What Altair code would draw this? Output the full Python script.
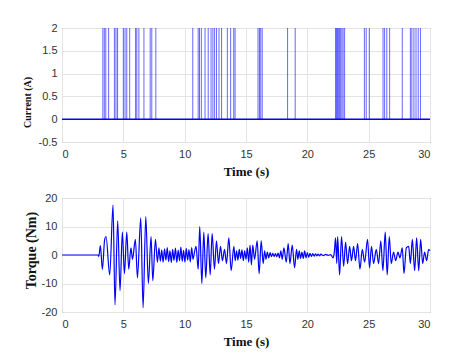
import altair as alt
import pandas as pd

# ---- data ----
x_ticks = [0, 5, 10, 15, 20, 25, 30]
cur_ticks = [-0.5, 0, 0.5, 1, 1.5, 2]
tq_ticks = [-20, -10, 0, 10, 20]

# switching edges of the current pulses (s)
pulse_t = [3.33, 3.45, 3.57, 3.80, 4.27, 4.40, 4.53, 5.00, 5.14, 5.28, 5.52,
           6.00, 6.10, 6.27, 6.68, 7.19, 7.32, 7.65,
           10.66, 11.10, 11.21, 11.36, 11.66, 11.92, 12.15, 12.30, 12.44,
           12.60, 12.80, 13.01, 13.48, 13.75, 14.00, 14.11,
           15.98, 16.10, 16.20, 16.32,
           18.39, 19.01,
           22.30, 22.38, 22.46, 22.55, 22.63, 22.72, 22.82, 22.92, 23.04,
           24.65, 24.80, 25.05,
           26.17, 26.30, 26.48, 26.71,
           27.74,
           28.40, 28.52, 28.69, 28.86, 29.04, 29.22]

# torque extrema (s, Nm)
torque_t = [0.0, 2.95, 3.00, 3.13, 3.29, 3.48, 3.59, 3.89, 4.16, 4.32, 4.54,
            4.73, 4.92, 5.09, 5.28, 5.44, 5.62, 5.75, 5.98, 6.15, 6.42, 6.61,
            6.83, 7.04, 7.26, 7.40, 7.62, 7.78,
            7.90, 8.02, 8.13, 8.24, 8.36, 8.47, 8.58, 8.69, 8.80, 8.91, 9.02,
            9.13, 9.25, 9.36, 9.47, 9.58, 9.69, 9.80, 9.91, 10.02, 10.13,
            10.24, 10.35, 10.46, 10.57, 10.68, 10.80,
            10.93, 11.10, 11.23, 11.40, 11.56, 11.72, 11.91, 12.08, 12.24,
            12.43, 12.59, 12.76, 12.92, 13.08, 13.25, 13.41, 13.60, 13.79,
            14.01, 14.12, 14.23, 14.34, 14.45, 14.56, 14.67, 14.78, 14.89,
            15.00, 15.11, 15.22, 15.33, 15.44, 15.55, 15.70, 15.91, 16.07,
            16.24, 16.40, 16.52, 16.63, 16.74, 16.85, 16.96, 17.07, 17.18,
            17.29, 17.40, 17.51, 17.62, 17.73, 17.84, 17.95, 18.09, 18.28,
            18.44, 18.58, 18.77, 18.96, 19.12, 19.23, 19.34, 19.45, 19.56,
            19.67, 19.78, 19.89, 20.00, 20.11, 20.22, 20.33, 20.44, 20.55,
            20.66, 20.77, 20.88, 21.00, 21.10, 21.30, 21.50, 21.70, 21.90,
            22.10, 22.20, 22.30, 22.40, 22.47, 22.63, 22.79, 22.96, 23.12,
            23.28, 23.45, 23.60, 23.77, 23.93, 24.10, 24.29, 24.48, 24.67,
            24.91, 25.07, 25.23, 25.40, 25.62, 25.81, 25.99, 26.16, 26.35,
            26.51, 26.68, 26.84, 27.03, 27.20, 27.39, 27.55, 27.74, 27.88,
            28.07, 28.26, 28.40, 28.56, 28.75, 28.91, 29.08, 29.24, 29.40,
            29.56, 29.73, 29.89, 30.00]
torque_v = [0.0, 0.0, -0.5, 3.3, -5.1, 5.5, 6.5, -7.0, 17.5, -17.5, 12.0,
            -12.5, 8.0, -6.5, 8.0, -5.0, 2.5, -1.5, 5.5, -8.0, 13.0, -18.5,
            13.5, -10.0, 6.5, -9.0, 5.5, -2.5,
            2.5, -2.2, 1.8, -2.5, 2.2, -1.8, 2.6, -2.3, 1.5, -2.6, 2.0,
            -1.9, 2.4, -2.6, 1.7, -2.0, 2.8, -2.2, 1.6, -2.5, 2.3,
            -1.8, 1.9, -2.4, 2.6, -1.5, 1.0,
            3.0, -5.0, 10.0, -10.0, 8.0, -8.0, 7.5, -7.0, 7.5,
            -5.0, 5.0, -3.0, 3.0, -2.0, 2.0, -3.0, 6.0, -5.5,
            3.0, -2.0, 1.5, -1.8, 2.0, -1.2, 1.8, -2.0, 1.5,
            -1.5, 2.5, -2.5, 3.5, -3.5, 3.5, -1.5, 5.0, -6.5,
            5.0, -3.0, 1.5, -1.5, 1.0, -1.0, 0.8, -0.6, 0.6,
            -0.5, 0.5, -0.6, 0.7, -1.0, 1.5, -1.5, 2.5, -2.5,
            4.0, -3.0, 3.5, -4.5, 2.0, -1.5, 1.5, -1.2, 1.0,
            -1.2, 1.5, -1.0, 0.8, -0.8, 0.6, -0.5, 0.5, -0.4,
            0.4, -0.3, 0.3, -0.3, 0.3, -0.2, 0.2, -0.1, 0.1,
            -1.0, 1.0, 6.0, -3.0, 6.5, -7.0, 6.5, -4.0, 4.5,
            -3.0, 3.0, -2.0, 3.0, -2.0, 4.0, -5.0, 2.0, -2.5,
            5.5, -4.5, 3.0, -3.0, 2.0, -3.0, 5.0, -5.5, 8.0,
            -7.0, 6.5, -3.0, 1.0, -2.0, 1.0, -1.0, 2.5, -6.5,
            2.5, 3.0, -3.0, 5.5, -5.5, 6.0, -5.5, 5.5, -3.0,
            1.0, -2.0, 2.0, 1.5]

pulses = pd.DataFrame({"t": pulse_t})
torque = pd.DataFrame({"t": torque_t, "v": torque_v})
baseline = pd.DataFrame({"t": [0, 30], "v": [0, 0]})

label_expr = ("datum.value < 0 ? '-' + format(-datum.value, '~g') "
              ": format(datum.value, '~g')")

common = dict(labelExpr=label_expr, grid=True, gridColor="#e3e3e3",
              gridWidth=1, ticks=False, domain=False, labelOverlap=False,
              labelFont="Liberation Sans", labelFontSize=11,
              labelColor="#333333", titleFont="Liberation Serif",
              titleFontWeight="bold", titleColor="#111111")

x_scale = alt.Scale(domain=[0, 30], nice=False)
cur_scale = alt.Scale(domain=[-0.5, 2], nice=False)


def x_axis():
    return alt.Axis(values=x_ticks, title="Time (s)", labelPadding=6,
                    titlePadding=6, titleFontSize=13, **common)


def cur_axis():
    return alt.Axis(values=cur_ticks, title="Current (A)", labelPadding=5,
                    titleFontSize=10, titleX=-35, titleY=74,
                    titleBaseline="middle", **common)


tq_axis = alt.Axis(values=tq_ticks, title="Torque (Nm)", labelPadding=5,
                   titleFontSize=14, titleX=-31, titleY=52,
                   titleBaseline="middle", **common)

base_line = alt.Chart(baseline).mark_line(color="#0000ff", strokeWidth=1.5).encode(
    x=alt.X("t:Q", scale=x_scale, axis=x_axis()),
    y=alt.Y("v:Q", scale=cur_scale, axis=cur_axis()),
)
rules = alt.Chart(pulses).mark_rule(color="#0000ff", opacity=0.6, strokeWidth=1).encode(
    x=alt.X("t:Q", scale=x_scale, axis=x_axis()),
    y=alt.YDatum(0, scale=cur_scale, axis=cur_axis()),
    y2=alt.Y2Datum(2),
)
top = alt.layer(base_line, rules).properties(width=368, height=114)

bottom = alt.Chart(torque).mark_line(color="#0000ff", strokeWidth=1.2,
                                     interpolate="monotone").encode(
    x=alt.X("t:Q", scale=x_scale, axis=x_axis()),
    y=alt.Y("v:Q", scale=alt.Scale(domain=[-20, 20], nice=False), axis=tq_axis),
).properties(width=368, height=114)

chart = alt.vconcat(top, bottom, spacing=56, bounds="flush").configure_view(
    stroke="#8c8c8c", strokeWidth=1
).configure_axis(
    labelOverlap=False
).properties(
    padding={"left": 13, "top": 13, "right": 5, "bottom": 5},
    background="white",
)

chart.save("out.html", embed_options={"renderer": "svg", "actions": False})
